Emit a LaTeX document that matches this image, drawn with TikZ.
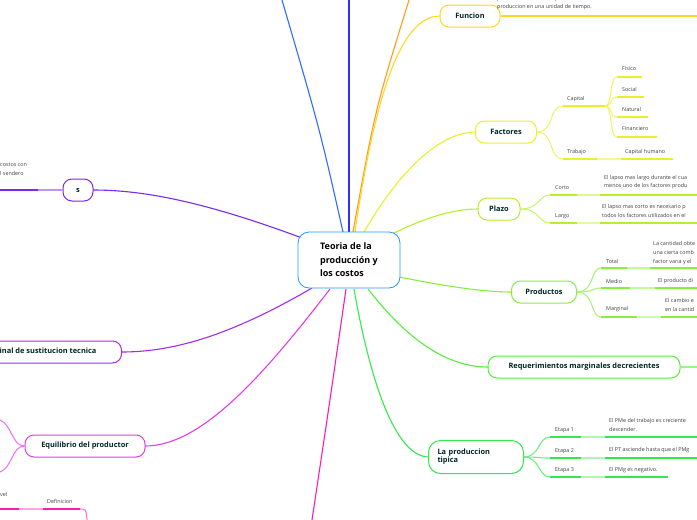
\documentclass[tikz,border=0pt]{standalone}
\usepackage{fontspec}
\setmainfont{Open Sans}
\begin{document}
\begin{tikzpicture}[x=1pt,y=-1pt,
  topic/.style={draw=#1,line width=1pt,rounded corners=9pt,fill=white,font=\fontsize{7.4}{8}\selectfont\bfseries,text=black!70!teal,inner sep=0pt,minimum height=22pt},
  lbl/.style={anchor=west,font=\fontsize{5.4}{8.6}\selectfont,text=black!75,inner sep=0pt,align=left},
  br/.style={draw=#1,line width=1.1pt},
  ul/.style={draw=#1,line width=1.5pt}]
\useasboundingbox (0,0) rectangle (697,520);
\definecolor{cblue}{HTML}{2F6BFF}
\definecolor{cdblue}{HTML}{2E2EFF}
\definecolor{corange}{HTML}{FF9A1A}
\definecolor{cyellow}{HTML}{FFD726}
\definecolor{cyg}{HTML}{E8F02A}
\definecolor{clime}{HTML}{B6F02A}
\definecolor{cgreen1}{HTML}{86F03A}
\definecolor{cgreen2}{HTML}{55EE3A}
\definecolor{cgreen3}{HTML}{33E84A}
\definecolor{cviolet}{HTML}{7A2AF0}
\definecolor{cpurple}{HTML}{A52AF0}
\definecolor{cmag}{HTML}{E83AE8}
\definecolor{cpink}{HTML}{FF1AB0}
% rays
\coordinate (t1) at (282,0); \coordinate (t2) at (349,0); \coordinate (t3) at (409,0); \coordinate (b1) at (312,520);
\draw[br=cblue] (343,232) .. controls (320,130) .. (t1);
\draw[br=cdblue] (349,232) -- (t2);
\draw[br=corange] (353,232) .. controls (375,110) .. (t3);
\draw[br=cyellow] (355,232) .. controls (380,60) and (410,16) .. (440,16);
\draw[br=cyg] (364,232) .. controls (400,170) and (440,132) .. (476,132);
\draw[br=clime] (390,235) .. controls (420,220) and (450,209) .. (478,209);
\draw[br=cgreen1] (399,277) .. controls (440,285) and (480,292) .. (512,292);
\draw[br=cgreen2] (368,289) .. controls (400,330) and (440,367) .. (488,367);
\draw[br=cgreen3] (354,289) .. controls (370,380) and (395,457) .. (429,457);
\draw[br=cviolet] (302,238) .. controls (200,200) and (140,190) .. (93,190);
\draw[br=cpurple] (312,288) .. controls (240,330) and (180,352) .. (122,352);
\draw[br=cmag] (330,289) .. controls (260,380) and (200,446) .. (145,446);
\draw[br=cpink] (346,289) .. controls (330,400) .. (b1);
% central
\node[draw=cblue!70!cyan,line width=0.8pt,rounded corners=11pt,fill=white,minimum width=102pt,minimum height=56pt,font=\fontsize{9}{13.5}\selectfont\bfseries,align=left,inner sep=0pt] (c) at (349,260) {Teoria de la\\producción y\\los costos};
% Funcion
\node[topic=cyellow,minimum width=60pt] (fun) at (470,16) {Funcion};
\draw[ul=cyellow] (fun.east) -- (697,16);
\node[lbl] (funt) at (497,3) {producción necesarias para obtener un cierto nivel de\\produccion en una unidad de tiempo.};
% Factores
\node[topic=cyg,minimum width=61pt] (fac) at (506,132) {Factores};
\node[lbl] (cap) at (567,99) {Capital};
\node[lbl] (tra) at (567,152) {Trabajo};
\draw[br=cyg!70] (fac.east) .. controls (555,132) and (548,106) .. (563,106);
\draw[br=cyg!70] (fac.east) .. controls (555,132) and (548,159) .. (563,159);
\draw[ul=cyg] (563,106) -- (605,106);
\draw[ul=cyg] (563,159) -- (597,159);
\draw[br=cyg!50] (597,159) -- (621,159);
\draw[ul=cyg] (621,159) -- (673,159);
\node[lbl] at (625,152) {Capital humano};
\foreach \t/\y/\w in {Fisico/77/642,Social/97/644,Natural/117/648,Financiero/137/657}{
  \draw[br=cyg!70] (605,106) .. controls (613,106) and (609,\y) .. (617,\y);
  \draw[ul=cyg] (617,\y) -- (\w,\y);
  \node[lbl] at (622,\y-8) {\t};
}
% Plazo
\node[topic=clime,minimum width=42pt] (pla) at (499,209) {Plazo};
\draw[br=clime!70] (pla.east) .. controls (540,209) and (538,195) .. (550,195);
\draw[br=clime!70] (pla.east) .. controls (540,209) and (538,223) .. (550,223);
\node[lbl] (cor) at (555,188) {Corto};
\node[lbl] (lar) at (555,216) {Largo};
\draw[ul=clime] (550,195) -- (577,195); \draw[br=clime!50] (577,195)--(600,195); \draw[ul=clime] (600,195) -- (697,195);
\draw[ul=clime] (550,223) -- (577,223); \draw[br=clime!40] (577,223)--(600,223); \draw[ul=clime] (600,223) -- (697,223);
\node[lbl] at (604,182) {El lapso mas largo durante el cua\\menos uno de los factores produ};
\node[lbl] at (602,211) {El lapso mas corto es necesario p\\todos los factores utilizados en el};
% Productos
\node[topic=cgreen1,minimum width=65pt] (pro) at (544,292) {Productos};
\draw[br=cgreen1!70] (pro.east) .. controls (595,292) and (590,268) .. (601,268);
\draw[br=cgreen1!70] (pro.east) .. controls (595,292) and (592,288) .. (601,288);
\draw[br=cgreen1!70] (pro.east) .. controls (595,292) and (590,317) .. (601,317);
\node[lbl] at (606,261) {Total};
\node[lbl] at (606,281) {Medio};
\node[lbl] at (606,309) {Marginal};
\draw[ul=cgreen1] (601,268) -- (627,268); \draw[br=cgreen1!50] (627,268)--(650,268); \draw[ul=cgreen1] (650,268) -- (697,268);
\draw[ul=cgreen1] (601,288) -- (630,288); \draw[br=cgreen1!50] (630,288)--(655,288); \draw[ul=cgreen1] (655,288) -- (697,288);
\draw[ul=cgreen1] (601,317) -- (637,317); \draw[br=cgreen1!40] (637,317)--(661,317); \draw[ul=cgreen1] (661,317) -- (697,317);
\node[lbl] at (653,253) {La cantidad obte\\una cierta comb\\factor varia y el};
\node[lbl] at (658,281) {El producto di};
\node[lbl] at (665,305) {El cambio e\\en la cantid};
% Requerimientos
\node[topic=cgreen2,minimum width=192pt] (req) at (584,367) {Requerimientos marginales decrecientes};
\draw[br=cgreen2!60] (req.east) -- (697,367);
% La produccion tipica
\node[topic=cgreen3,minimum width=95pt,minimum height=33pt,rounded corners=12pt,align=left,text width=77pt] (lpt) at (476,457) {La produccion\\tipica};
\foreach \t/\y/\w in {Etapa 1/437/697,Etapa 2/458/697,Etapa 3/477/668}{
  \draw[br=cgreen3!70] (lpt.east) .. controls (540,457) and (538,\y) .. (550,\y);
  \draw[ul=cgreen3] (550,\y) -- (581,\y); \draw[br=cgreen3!40] (581,\y)--(605,\y); \draw[ul=cgreen3] (605,\y) -- (\w,\y);
  \node[lbl] at (555,\y-7) {\t};
}
\node[lbl] at (609,425) {El PMe del trabajo es creciente\\descender.};
\node[lbl] at (609,450) {El PT asciende hasta que el PMg};
\node[lbl] at (609,470) {El PMg es negativo.};
% left: s
\node[topic=cviolet,minimum width=30pt] (s) at (78,190) {s};
\draw[br=cviolet!50] (s.west) -- (38,190);
\draw[ul=cviolet] (38,190) -- (0,190);
\node[lbl] (sl) at (0,169) {costos con\\l sendero};
% left: sustitucion
\node[topic=cpurple,minimum width=140pt,anchor=east,align=right] (sus) at (122,352) {ginal de sustitucion tecnica\hspace*{11pt}};
% Equilibrio
\node[topic=cmag,minimum width=120pt] (equ) at (85,446) {Equilibrio del productor};
\draw[br=cmag!70] (equ.west) .. controls (12,446) and (12,425) .. (0,420);
\draw[br=cmag!70] (equ.west) .. controls (12,446) and (12,468) .. (0,472);
% Definicion
\node[lbl] at (0,494) {vel};
\node[lbl] (def) at (47,501) {Definicion};
\draw[ul=cpink] (0,509) -- (19,509); \draw[br=cpink!40] (19,509)--(43,509); \draw[ul=cpink] (43,509) -- (80,509);
\draw[br=cpink!60] (80,509) .. controls (86,509) .. (87,520);
\end{tikzpicture}
\end{document}
